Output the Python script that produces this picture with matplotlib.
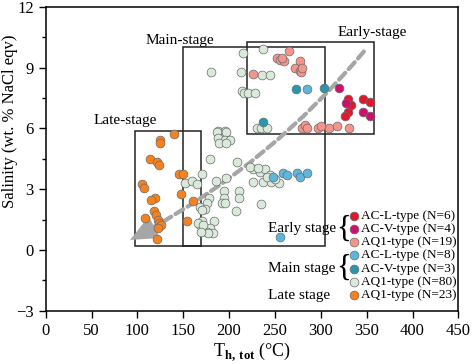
import matplotlib
matplotlib.use("Agg")
import matplotlib.pyplot as plt
from matplotlib.patches import Rectangle, FancyArrowPatch
from matplotlib.ticker import MultipleLocator

plt.rcParams["font.family"] = ["Liberation Serif", "DejaVu Serif"]
plt.rcParams["mathtext.fontset"] = "custom"
plt.rcParams["mathtext.rm"] = "Liberation Serif"
plt.rcParams["mathtext.bf"] = "Liberation Serif:bold"

# --- data: (Th,tot in C, salinity wt.% NaCl eqv) ---
early_acl_x = [330, 346, 354, 330, 326, 333]
early_acl_y = [7.46, 7.46, 7.30, 6.83, 6.64, 7.15]
early_acv_x = [320, 328, 346, 354]
early_acv_y = [8.02, 7.28, 6.80, 6.64]
early_aq1_x = [265, 252, 256, 260, 277, 272, 277, 278, 226, 279, 283, 297, 309, 318, 331, 280, 258, 300, 285]
early_aq1_y = [9.84, 9.47, 9.38, 9.33, 9.35, 8.97, 8.84, 8.81, 8.68, 6.04, 6.18, 6.01, 6.01, 6.14, 6.01, 9.00, 9.50, 6.10, 6.00]

main_acl_x = [248, 259, 274, 277, 285, 285, 256, 263]
main_acl_y = [3.63, 3.82, 3.79, 3.63, 3.79, 7.94, 0.64, 3.70]
main_acv_x = [273, 303, 237]
main_acv_y = [7.94, 7.99, 6.32]
main_aq1_x = [180, 213, 215, 237, 236, 245, 214, 216, 221, 228, 230, 235, 241, 188, 196,
              187, 197, 188, 196, 201, 189, 197,
              179, 209, 170,
              152, 159, 165, 186, 197,
              226, 234, 239, 245, 226, 237, 246, 254, 223, 231, 241, 250,
              194, 194, 192, 196,
              211, 211,
              178, 176, 168, 174, 170,
              208, 235,
              170, 183, 179, 176, 182, 168, 177,
              166, 172, 169]
main_aq1_y = [8.79, 8.81, 9.71, 9.91, 8.66, 8.66, 7.87, 7.74, 7.74, 7.74, 6.04, 6.04, 6.04, 5.90, 5.90,
              5.85, 5.85, 5.52, 5.44, 5.44, 5.30, 5.27,
              4.48, 4.35, 3.74,
              3.30, 3.41, 3.25, 3.41, 3.55,
              3.99, 3.87, 3.99, 3.71, 3.38, 3.38, 3.38, 3.30, 4.12, 4.05, 3.60, 3.50,
              2.92, 2.59, 2.34, 2.31,
              2.92, 2.56,
              2.56, 2.34, 2.14, 2.02, 1.98,
              1.93, 2.27,
              1.41, 1.45, 1.08, 0.91, 0.83, 1.24, 0.83,
              1.33, 1.24, 0.91]

late_aq1_x = [140, 125, 125, 114, 121, 124, 145, 150, 105, 107, 119, 115, 148, 161,
              118, 120, 108, 122, 124, 126, 123, 154, 121]
late_aq1_y = [5.72, 5.44, 5.27, 4.50, 4.34, 4.20, 3.74, 3.74, 3.25, 3.08, 2.59, 2.48, 2.76, 2.43,
              1.93, 1.74, 1.60, 1.49, 1.33, 1.24, 1.08, 1.41, 0.54]

# stage boxes (x0, y0, x1, y1) and their labels
stage_names = ["Late-stage", "Main-stage", "Early-stage"]
stage_boxes = [(97, 0.2, 169, 5.9), (150, 0.2, 305, 10.0), (220, 5.75, 358, 10.25)]
stage_label_xy = [(87, 6.4), (146, 10.35), (356, 10.75)]

# evolution trend arrow
trend_start = (347, 9.8)
trend_end = (92, 0.5)

groups = [
    # (stage, label, x, y, colour)
    ("Main stage", "AQ1-type (N=80)", main_aq1_x, main_aq1_y, "#d9eadb"),
    ("Late stage", "AQ1-type (N=23)", late_aq1_x, late_aq1_y, "#f5821f"),
    ("Early stage", "AQ1-type (N=19)", early_aq1_x, early_aq1_y, "#f4948a"),
    ("Main stage", "AC-L-type (N=8)", main_acl_x, main_acl_y, "#5cb6dd"),
    ("Main stage", "AC-V-type (N=3)", main_acv_x, main_acv_y, "#2a96ae"),
    ("Early stage", "AC-L-type (N=6)", early_acl_x, early_acl_y, "#e3172c"),
    ("Early stage", "AC-V-type (N=4)", early_acv_x, early_acv_y, "#cf0f6c"),
]
legend_order = [5, 6, 2, 3, 4, 0, 1]

fig = plt.figure(figsize=(4.74, 3.64), dpi=100)
ax = fig.add_axes([0.0964, 0.146, 0.8706, 0.835])

for x0, y0, x1, y1 in stage_boxes:
    ax.add_patch(Rectangle((x0, y0), x1 - x0, y1 - y0, fill=False,
                           edgecolor="#222222", linewidth=1.1, zorder=1))
for name, (tx, ty) in zip(stage_names, stage_label_xy):
    ax.text(tx, ty, name, fontsize=11, ha="center", va="center")

# dashed curved shaft + solid head drawn as a second patch along the same curve
shaft = FancyArrowPatch(trend_start, trend_end, connectionstyle="arc3,rad=-0.1",
                        arrowstyle="-", linestyle=(0, (2.2, 1.2)), linewidth=3,
                        color="#a6a6a6", zorder=2, shrinkA=0, shrinkB=14)
ax.add_patch(shaft)
head = FancyArrowPatch(trend_start, trend_end, connectionstyle="arc3,rad=-0.1",
                       arrowstyle="-|>,head_length=1.8,head_width=0.8",
                       mutation_scale=11, linewidth=0, color="#a6a6a6",
                       zorder=2, shrinkA=0, shrinkB=0)
ax.add_patch(head)

for stage, label, xs, ys, col in groups:
    ax.scatter(xs, ys, s=40, c=col, edgecolors="#6a6a6a", linewidths=0.5, zorder=3)

# custom grouped legend
row_y0, row_step = 0.313, 0.0435
for i, gi in enumerate(legend_order):
    stage, label, xs, ys, col = groups[gi]
    yy = row_y0 - i * row_step
    ax.scatter([0.747], [yy], s=40, c=col, edgecolors="#6a6a6a", linewidths=0.5,
               transform=ax.transAxes, zorder=4, clip_on=False)
    ax.text(0.765, yy, label, fontsize=9.5, va="center", transform=ax.transAxes)
for name, row in [("Early stage", 1), ("Main stage", 4)]:
    yy = row_y0 - row * row_step
    ax.text(0.539, yy, name, fontsize=11, va="center", transform=ax.transAxes)
    ax.text(0.723, yy, "{", fontsize=22, va="center", ha="center",
            transform=ax.transAxes)
ax.text(0.539, row_y0 - 6 * row_step, "Late stage", fontsize=11, va="center",
        transform=ax.transAxes)

ax.set_xlim(0, 450)
ax.set_ylim(-3, 12)
ax.xaxis.set_major_locator(MultipleLocator(50))
ax.yaxis.set_major_locator(MultipleLocator(3))
ax.yaxis.set_minor_locator(MultipleLocator(1.5))
ax.tick_params(direction="out", length=5, width=1, labelsize=12)
ax.tick_params(axis="y", which="minor", direction="out", length=3, width=1)
for sp in ax.spines.values():
    sp.set_linewidth(1.1)
ax.set_xlabel(r"T$_{\mathbf{h,\,tot}}$ (°C)", fontsize=13, labelpad=1)
ax.set_ylabel("Salinity (wt. % NaCl eqv)", fontsize=12)
ax.yaxis.set_label_coords(-0.068, 0.625)

fig.savefig("out.png", dpi=100)
